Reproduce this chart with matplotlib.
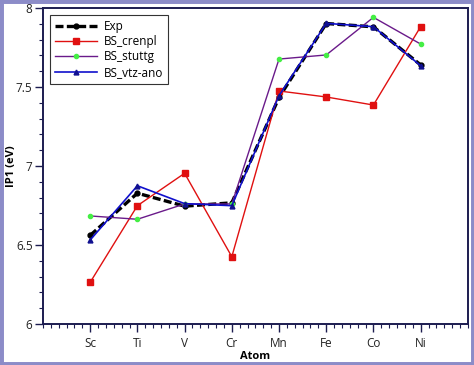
import matplotlib
matplotlib.use("Agg")
import matplotlib.pyplot as plt
from matplotlib.ticker import MultipleLocator, FormatStrFormatter
from matplotlib.patches import Rectangle

atoms = ["Sc", "Ti", "V", "Cr", "Mn", "Fe", "Co", "Ni"]
exp = [6.561, 6.828, 6.746, 6.767, 7.434, 7.902, 7.881, 7.640]
bs_crenpl = [6.264, 6.749, 6.954, 6.426, 7.475, 7.437, 7.386, 7.882]
bs_stuttg = [6.684, 6.663, 6.760, 6.760, 7.677, 7.703, 7.941, 7.772]
bs_vtz_ano = [6.532, 6.875, 6.762, 6.749, 7.445, 7.903, 7.882, 7.635]

plt.rcParams['font.family'] = ['Open Sans', 'DejaVu Sans']
fig = plt.figure(figsize=(4.74, 3.65), dpi=100)
fig.patches.append(Rectangle((0, 0), 1, 1, transform=fig.transFigure,
                             fill=False, edgecolor='#8c8cc8', linewidth=5))
ax = fig.add_axes([0.0907, 0.1123, 0.8963, 0.8657])

x = list(range(1, len(atoms) + 1))
ax.plot(x, exp, color='black', linestyle='--', linewidth=2.4, dashes=(2.4, 1.0),
        marker='o', markersize=3.5, label='Exp')
ax.plot(x, bs_crenpl, color='#e01010', linewidth=1.0, marker='s',
        markersize=5, label='BS_crenpl')
ax.plot(x, bs_stuttg, color='#6a1a8a', linewidth=1.0, marker='o',
        markersize=3, markerfacecolor='#44ee44', markeredgecolor='#44ee44',
        label='BS_stuttg')
ax.plot(x, bs_vtz_ano, color='#1010cc', linewidth=1.2, marker='^',
        markersize=3.5, markeredgecolor='#101090', markerfacecolor='#101090',
        label='BS_vtz-ano')

ax.set_xlim(0, 9)
ax.set_ylim(6, 8)
ax.set_xticks(x)
ax.set_xticklabels(atoms)
ax.xaxis.set_minor_locator(MultipleLocator(1 / 6))
ax.yaxis.set_major_locator(MultipleLocator(0.5))
ax.yaxis.set_minor_locator(MultipleLocator(0.1))
ax.yaxis.set_major_formatter(FormatStrFormatter('%g'))

navy = '#1c1c50'
for side in ['left', 'right', 'top', 'bottom']:
    ax.spines[side].set_color(navy)
    ax.spines[side].set_linewidth(1.4)
ax.tick_params(which='both', direction='out', colors=navy, labelcolor='#222222',
               labelsize=8.5, top=False, right=False)
ax.tick_params(which='major', length=5.5, width=1)
ax.tick_params(which='minor', length=3, width=0.8)
ax.tick_params(axis='x', pad=4)
ax.tick_params(axis='y', pad=2)

ax.set_xlabel('Atom', fontsize=8, fontweight='bold', va='center')
ax.set_ylabel('IP1 (eV)', fontsize=8, fontweight='bold', va='center')
ax.xaxis.set_label_coords(0.5, -0.104)
ax.yaxis.set_label_coords(-0.073, 0.5)

leg = ax.legend(loc='upper left', bbox_to_anchor=(0.016, 0.978), fontsize=8.5,
                fancybox=False, edgecolor='#333333', framealpha=1,
                handlelength=3.6, handletextpad=0.55, borderpad=0.4,
                labelspacing=0.2, borderaxespad=0)
leg.get_frame().set_linewidth(0.8)

fig.savefig('out.png', dpi=100)
